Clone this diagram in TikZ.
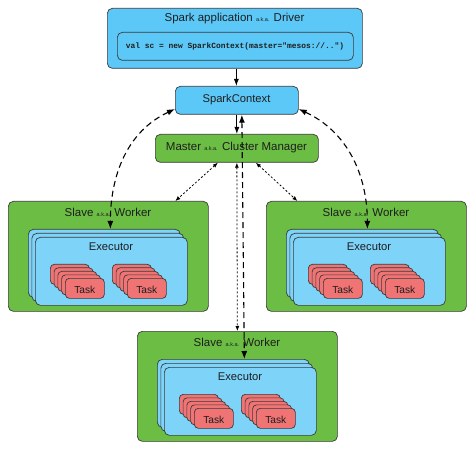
\documentclass[tikz,border=0pt]{standalone}
\usepackage{fontspec}
\setmainfont{Liberation Sans}
\newfontfamily\codefont{Liberation Mono}
\usetikzlibrary{arrows.meta}
\definecolor{sblue}{HTML}{5CC8F8}
\definecolor{eblue}{HTML}{7ED4F8}
\definecolor{sgreen}{HTML}{6BBE43}
\definecolor{tred}{HTML}{F07474}
\definecolor{lineg}{HTML}{3A3A3A}
\definecolor{txt}{HTML}{1E1E1E}
\tikzset{
  box/.style={draw=lineg, line width=0.7pt, rounded corners=5pt, anchor=north west, inner sep=0pt},
  bluebox/.style={box, fill=sblue},
  greenbox/.style={box, fill=sgreen},
  exbox/.style={box, fill=eblue, minimum width=152pt, minimum height=68pt},
  taskbox/.style={box, fill=tred, rounded corners=4pt, minimum width=39pt, minimum height=20pt},
  label/.style={font=\fontsize{11.5}{13}\selectfont, text=txt, inner sep=0pt},
  slabel/.style={font=\fontsize{11.2}{13}\selectfont, text=txt, inner sep=0pt},
  solidarrow/.style={draw=black, line width=0.9pt, -{Latex[length=7pt,width=5pt]}},
  dasharrow/.style={draw=black, line width=1.1pt, dash pattern=on 6pt off 4pt, {Latex[length=8pt,width=6pt]}-{Latex[length=8pt,width=6pt]}},
  dotarrow/.style={draw=black, line width=0.8pt, dash pattern=on 2pt off 2pt, {Latex[length=5pt,width=4pt]}-{Latex[length=5pt,width=4pt]}},
}
\newcommand{\akatext}{{\fontsize{5.5}{6}\selectfont a.k.a.}}
\newcommand{\taskstack}[3]{% name, x, y of front task
  \foreach \k in {4,3,2,1} {
    \node[taskbox] (#1\k) at ({#2-3.75*\k},{#3-3.5*\k}) {};
  }
  \node[taskbox] (#1) at (#2,#3) {};
  \node[font=\fontsize{10.2}{12}\selectfont, text=txt, inner sep=0pt] (#1t) at ([yshift=-1.5pt]#1.center) {Task};
}
\newcommand{\worker}[3]{% name, x, y of worker box
  \node[greenbox, minimum width=200pt, minimum height=110pt] (#1) at (#2,#3) {};
  \node[label] (#1t) at ({#2+100},{#3+11}) {Slave \akatext{} Worker};
  \node[exbox] (#1ea) at ({#2+20},{#3+28}) {};
  \node[exbox] (#1eb) at ({#2+23.5},{#3+32}) {};
  \node[exbox] (#1e) at ({#2+27},{#3+36}) {};
  \node[slabel] (#1et) at ({#2+103},{#3+46}) {Executor};
  \taskstack{#1ta}{#2+57}{#3+77}
  \taskstack{#1tb}{#2+119}{#3+77}
}
\begin{document}
\begin{tikzpicture}[x=1pt,y=-1pt]
\useasboundingbox[fill=white] (0,0) rectangle (474,449);
% driver
\node[bluebox, minimum width=255pt, minimum height=60pt] (driver) at (107,8) {};
\node[label] (drivert) at (234.5,19) {Spark application \akatext{} Driver};
\node[bluebox, minimum width=236pt, minimum height=28pt] (code) at (117,32) {};
\node[font=\codefont\bfseries\fontsize{7.9}{9}\selectfont, text=txt, inner sep=0pt] (codet) at (235,46) {val sc = new SparkContext(master="mesos://..")};
% spark context
\node[bluebox, minimum width=123pt, minimum height=28pt] (sc) at (175,86) {};
\node[slabel] (sct) at (236.5,100) {SparkContext};
% master
\node[greenbox, minimum width=163pt, minimum height=28pt] (ms) at (155,134) {};
\node[label] (mst) at (236.5,148) {Master \akatext{} Cluster Manager};
% workers
\worker{wL}{8}{201}
\worker{wR}{266}{201}
\worker{wB}{137}{331}
% connectors
\draw[solidarrow] ([xshift=1.5pt]driver.south) -- ([xshift=-0.5pt]sc.north);
\draw[solidarrow] (sc.south) -- (ms.north);
\draw[dotarrow] (ms.south) -- (wB.north);
\draw[dotarrow] ([xshift=-19pt]ms.south) -- ([xshift=67pt]wL.north);
\draw[dotarrow] ([xshift=19pt]ms.south) -- ([xshift=-69pt]wR.north);
\draw[dasharrow] (sc.188) to[out=205,in=90] ([xshift=6pt]wLea.north);
\draw[dasharrow] (sc.-8) to[out=-25,in=90] ([xshift=5pt]wRea.north);
\draw[dasharrow] ([xshift=5pt]sc.south) -- ([xshift=11pt]wBea.north);
\end{tikzpicture}
\end{document}
